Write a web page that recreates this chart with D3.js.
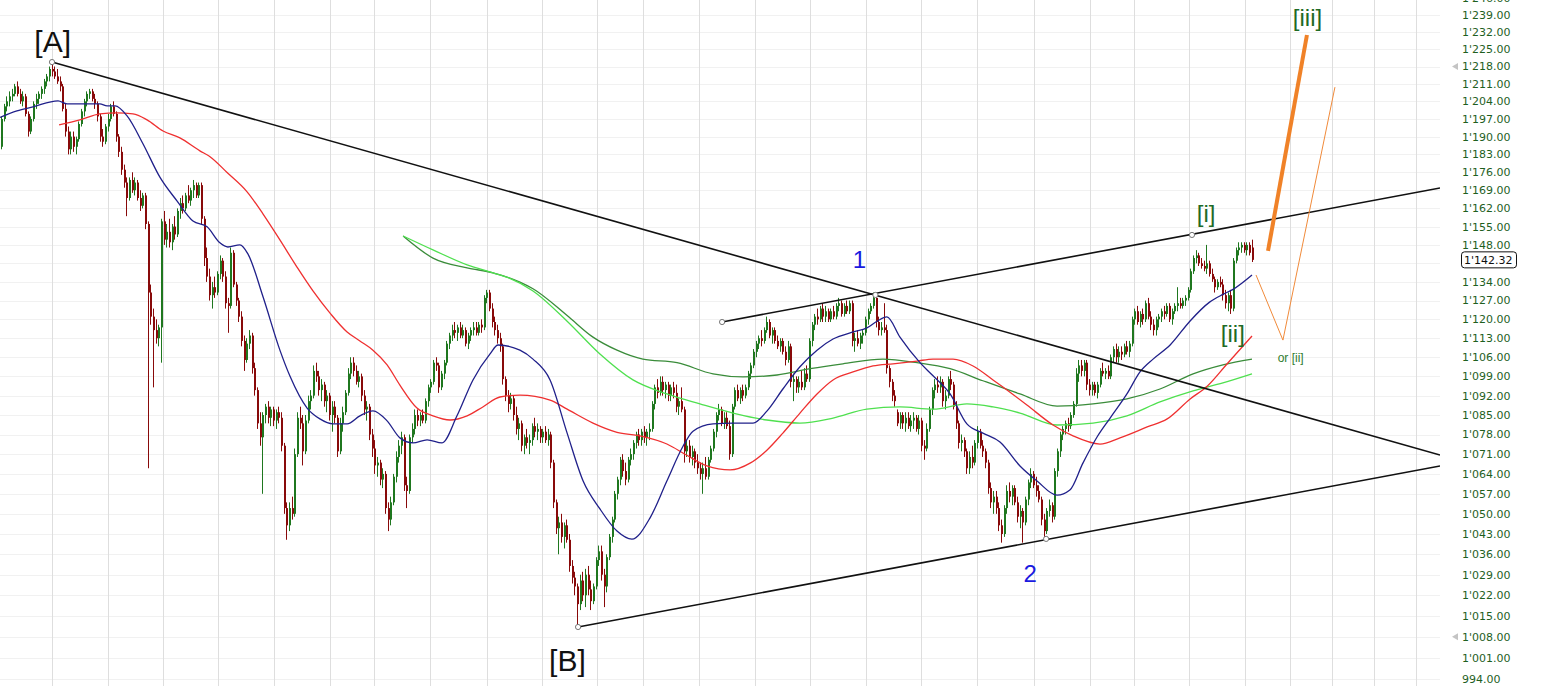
<!DOCTYPE html>
<html><head><meta charset="utf-8">
<script src="https://cdn.jsdelivr.net/npm/d3@7"></script>
<style>html,body{margin:0;padding:0;background:#fff;overflow:hidden}</style>
</head><body>
<svg id="chart" width="1543" height="686"></svg>
<script>
// ---- DATA ----
const opens = [
1186,1197,1202,1204,1206,1207,1210,1207,1204,1206,
1199,1192,1197,1203,1205,1207,1209,1212,1214,1217,
1216,1214,1212,1210,1201,1192,1185,1190,1186,1189,
1195,1200,1204,1207,1208,1205,1203,1198,1190,1188,
1194,1197,1202,1199,1190,1184,1177,1172,1166,1173,
1169,1172,1166,1163,1167,1156,1130,1121,1116,1113,
1117,1157,1150,1153,1149,1155,1152,1161,1164,1162,
1167,1165,1169,1171,1167,1171,1158,1143,1136,1129,
1132,1130,1137,1142,1136,1126,1125,1145,1133,1127,
1121,1112,1105,1111,1114,1102,1094,1082,1077,1085,
1088,1084,1087,1083,1086,1084,1074,1052,1046,1052,
1050,1071,1084,1082,1072,1083,1090,1092,1101,1099,
1094,1096,1090,1092,1085,1088,1084,1072,1082,1086,
1093,1100,1104,1101,1097,1099,1092,1087,1088,1078,
1073,1067,1068,1062,1064,1052,1048,1054,1063,1070,
1074,1077,1060,1058,1077,1080,1085,1083,1085,1083,
1090,1095,1097,1104,1103,1095,1100,1104,1111,1114,
1116,1115,1117,1114,1116,1111,1114,1116,1117,1115,
1118,1117,1128,1130,1124,1119,1116,1113,1110,1098,
1092,1089,1091,1085,1080,1082,1074,1077,1075,1076,
1081,1079,1080,1077,1079,1076,1078,1068,1054,1045,
1047,1042,1046,1041,1032,1028,1025,1019,1027,1022,
1029,1024,1020,1025,1034,1037,1029,1025,1035,1042,
1048,1057,1062,1069,1065,1062,1069,1071,1075,1078,
1076,1079,1077,1079,1080,1089,1095,1093,1097,1094,
1096,1092,1095,1093,1088,1090,1087,1072,1074,1070,
1072,1068,1066,1064,1066,1063,1069,1073,1079,1085,
1087,1082,1084,1081,1071,1088,1094,1091,1094,1092,
1095,1100,1103,1108,1111,1113,1112,1116,1119,1114,
1116,1112,1110,1112,1108,1105,1110,1097,1098,1095,
1097,1095,1100,1098,1112,1118,1121,1120,1124,1121,
1123,1120,1123,1121,1125,1126,1122,1125,1123,1126,
1112,1113,1111,1114,1115,1120,1123,1125,1128,1119,
1116,1117,1116,1102,1097,1092,1086,1082,1085,1082,
1084,1081,1083,1084,1080,1083,1074,1073,1080,1087,
1094,1096,1095,1097,1090,1092,1098,1096,1088,1082,
1075,1076,1072,1066,1070,1068,1075,1079,1074,1072,
1068,1059,1054,1056,1052,1046,1043,1052,1058,1056,
1059,1054,1049,1051,1047,1055,1061,1064,1060,1058,
1055,1048,1044,1051,1053,1049,1065,1072,1078,1080,
1082,1081,1085,1089,1100,1103,1101,1104,1096,1094,
1096,1093,1096,1101,1100,1101,1099,1106,1109,1106,
1108,1107,1110,1108,1111,1120,1123,1119,1122,1120,
1126,1121,1118,1116,1120,1121,1123,1122,1125,1120,
1123,1125,1126,1125,1127,1128,1131,1138,1143,1144,
1141,1140,1139,1141,1137,1135,1132,1134,1133,1129,
1126,1129,1124,1142,1146,1147,1148,1146,1148,1147];
const highs = [
1198,1203,1206,1208,1209,1211,1212,1209,1208,1207,
1200,1198,1204,1207,1208,1210,1213,1215,1218,1220,
1218,1217,1214,1211,1203,1194,1192,1192,1190,1196,
1201,1205,1208,1209,1209,1207,1204,1199,1193,1195,
1199,1203,1204,1200,1191,1186,1179,1174,1174,1176,
1174,1173,1169,1168,1168,1157,1133,1124,1120,1118,
1158,1161,1156,1158,1156,1159,1162,1166,1167,1168,
1171,1170,1173,1172,1172,1172,1159,1147,1139,1134,
1136,1138,1144,1143,1138,1128,1147,1146,1134,1128,
1123,1114,1113,1116,1115,1104,1095,1086,1086,1089,
1090,1088,1088,1087,1088,1086,1075,1054,1054,1056,
1073,1086,1088,1085,1085,1092,1094,1103,1104,1101,
1098,1097,1094,1093,1090,1090,1085,1084,1088,1094,
1102,1106,1106,1103,1101,1100,1094,1090,1089,1080,
1076,1070,1069,1066,1065,1054,1056,1064,1072,1076,
1079,1078,1063,1078,1082,1087,1087,1086,1087,1091,
1096,1098,1105,1106,1104,1101,1105,1112,1115,1118,
1119,1118,1119,1118,1117,1115,1117,1119,1119,1119,
1120,1129,1131,1131,1126,1121,1118,1115,1111,1099,
1094,1093,1092,1088,1084,1083,1078,1080,1078,1082,
1084,1082,1081,1080,1081,1080,1079,1069,1055,1049,
1050,1047,1048,1043,1034,1030,1026,1029,1030,1031,
1032,1027,1026,1035,1039,1039,1031,1036,1043,1049,
1058,1063,1070,1071,1068,1070,1073,1076,1079,1080,
1080,1081,1080,1082,1090,1096,1098,1099,1099,1097,
1097,1096,1097,1096,1091,1095,1088,1076,1076,1074,
1073,1071,1068,1068,1070,1070,1074,1080,1086,1089,
1088,1086,1086,1083,1089,1095,1096,1095,1096,1096,
1101,1104,1109,1112,1114,1116,1117,1121,1120,1117,
1117,1114,1113,1113,1110,1112,1111,1100,1099,1099,
1101,1102,1103,1113,1119,1122,1124,1125,1126,1125,
1124,1124,1125,1126,1128,1127,1126,1127,1127,1127,
1115,1116,1115,1116,1121,1124,1126,1130,1129,1121,
1119,1126,1118,1103,1098,1094,1087,1086,1086,1086,
1086,1085,1086,1085,1085,1084,1076,1082,1088,1095,
1098,1099,1099,1098,1094,1099,1101,1097,1090,1083,
1078,1077,1073,1072,1074,1076,1081,1080,1076,1073,
1069,1061,1058,1058,1054,1048,1053,1060,1061,1060,
1060,1056,1053,1052,1056,1062,1066,1065,1063,1060,
1056,1050,1052,1055,1054,1066,1073,1079,1081,1083,
1084,1086,1090,1102,1105,1105,1105,1105,1098,1097,
1097,1097,1102,1104,1102,1103,1107,1110,1111,1110,
1110,1111,1112,1112,1121,1124,1125,1123,1124,1127,
1128,1123,1120,1121,1122,1124,1125,1126,1126,1124,
1126,1132,1128,1128,1129,1132,1139,1144,1146,1145,
1143,1142,1148,1142,1139,1136,1135,1136,1135,1131,
1130,1131,1143,1147,1149,1149,1149,1149,1149,1150];
const lows = [
1185,1196,1200,1202,1204,1206,1206,1203,1202,1198,
1190,1191,1196,1201,1203,1205,1207,1210,1212,1214,
1213,1211,1208,1200,1190,1183,1183,1184,1183,1188,
1194,1198,1202,1205,1204,1201,1196,1188,1186,1187,
1192,1196,1198,1188,1182,1175,1170,1159,1165,1168,
1167,1165,1161,1162,1154,1066,1118,1095,1111,1110,
1104,1148,1147,1147,1146,1150,1151,1158,1160,1161,
1164,1163,1166,1166,1166,1156,1140,1134,1127,1124,
1128,1129,1135,1134,1124,1115,1124,1132,1125,1119,
1110,1101,1104,1109,1100,1092,1080,1074,1057,1082,
1082,1081,1081,1080,1082,1072,1050,1041,1044,1048,
1049,1070,1080,1067,1071,1082,1087,1091,1097,1092,
1090,1088,1086,1083,1079,1082,1070,1071,1079,1085,
1092,1098,1099,1096,1095,1090,1085,1083,1076,1070,
1064,1063,1060,1059,1050,1044,1046,1053,1061,1068,
1071,1058,1052,1057,1075,1078,1081,1081,1082,1082,
1088,1093,1096,1101,1093,1094,1098,1103,1109,1112,
1113,1112,1113,1113,1110,1109,1112,1114,1114,1114,
1115,1116,1126,1123,1117,1114,1111,1108,1096,1090,
1086,1087,1083,1078,1076,1072,1071,1073,1071,1074,
1077,1076,1075,1075,1075,1074,1066,1052,1043,1036,
1040,1038,1040,1030,1026,1022,1011.3,1017,1020,1018,
1022,1017,1019,1024,1032,1027,1018,1023,1034,1040,
1047,1055,1060,1063,1060,1061,1067,1069,1073,1074,
1074,1075,1074,1076,1079,1087,1091,1092,1092,1091,
1090,1090,1091,1086,1085,1086,1068,1070,1068,1067,
1066,1064,1062,1057,1062,1062,1068,1072,1077,1083,
1081,1080,1080,1069,1070,1087,1090,1089,1090,1091,
1094,1098,1102,1106,1109,1110,1111,1115,1113,1111,
1111,1109,1108,1107,1103,1104,1095,1090,1093,1093,
1094,1094,1097,1097,1110,1116,1118,1119,1119,1119,
1119,1119,1120,1120,1123,1121,1121,1122,1122,1110,
1108,1110,1109,1111,1114,1118,1122,1124,1117,1114,
1114,1115,1100,1095,1090,1088,1081,1080,1080,1079,
1080,1079,1080,1079,1078,1072,1069,1072,1079,1085,
1091,1093,1093,1088,1087,1091,1094,1087,1080,1073,
1072,1070,1064,1064,1066,1067,1073,1073,1070,1066,
1057,1052,1050,1050,1044,1040,1042,1050,1054,1053,
1053,1047,1045,1040,1046,1053,1059,1059,1056,1054,
1046,1041,1043,1049,1047,1048,1063,1070,1076,1078,
1079,1080,1084,1088,1097,1099,1099,1094,1092,1092,
1092,1091,1095,1099,1098,1098,1098,1104,1104,1104,
1105,1106,1107,1106,1110,1118,1118,1117,1118,1119,
1120,1116,1114,1114,1117,1119,1120,1121,1119,1118,
1122,1123,1124,1124,1125,1127,1130,1137,1141,1140,
1139,1138,1137,1136,1134,1130,1131,1132,1127,1124,
1123,1122,1123,1141,1144,1145,1145,1144,1144,1141.5];
const closes = [
1197,1202,1204,1206,1207,1210,1207,1204,1206,1199,
1192,1197,1203,1205,1207,1209,1212,1214,1217,1216,
1214,1212,1210,1201,1192,1185,1190,1186,1189,1195,
1200,1204,1207,1208,1205,1203,1198,1190,1188,1194,
1197,1202,1199,1190,1184,1177,1172,1166,1173,1169,
1172,1166,1163,1167,1156,1130,1121,1116,1113,1117,
1157,1150,1153,1149,1155,1152,1161,1164,1162,1167,
1165,1169,1171,1167,1171,1158,1143,1136,1129,1132,
1130,1137,1142,1136,1126,1125,1145,1133,1127,1121,
1112,1105,1111,1114,1102,1094,1082,1077,1085,1088,
1084,1087,1083,1086,1084,1074,1052,1046,1052,1050,
1071,1084,1082,1072,1083,1090,1092,1101,1099,1094,
1096,1090,1092,1085,1088,1084,1072,1082,1086,1093,
1100,1104,1101,1097,1099,1092,1087,1088,1078,1073,
1067,1068,1062,1064,1052,1048,1054,1063,1070,1074,
1077,1060,1058,1077,1080,1085,1083,1085,1083,1090,
1095,1097,1104,1103,1095,1100,1104,1111,1114,1116,
1115,1117,1114,1116,1111,1114,1116,1117,1115,1118,
1117,1128,1130,1124,1119,1116,1113,1110,1098,1092,
1089,1091,1085,1080,1082,1074,1077,1075,1076,1081,
1079,1080,1077,1079,1076,1078,1068,1054,1045,1047,
1042,1046,1041,1032,1028,1025,1019,1027,1022,1029,
1024,1020,1025,1034,1037,1029,1025,1035,1042,1048,
1057,1062,1069,1065,1062,1069,1071,1075,1078,1076,
1079,1077,1079,1080,1089,1095,1093,1097,1094,1096,
1092,1095,1093,1088,1090,1087,1072,1074,1070,1072,
1068,1066,1064,1066,1063,1069,1073,1079,1085,1087,
1082,1084,1081,1071,1088,1094,1091,1094,1092,1095,
1100,1103,1108,1111,1113,1112,1116,1119,1114,1116,
1112,1110,1112,1108,1105,1110,1097,1098,1095,1097,
1095,1100,1098,1112,1118,1121,1120,1124,1121,1123,
1120,1123,1121,1125,1126,1122,1125,1123,1126,1112,
1113,1111,1114,1115,1120,1123,1125,1128,1119,1116,
1117,1116,1102,1097,1092,1090,1082,1085,1082,1084,
1081,1083,1084,1080,1083,1074,1073,1080,1087,1094,
1096,1095,1097,1090,1092,1098,1096,1088,1082,1075,
1076,1072,1066,1070,1068,1075,1079,1074,1072,1068,
1059,1054,1056,1052,1046,1043,1052,1058,1056,1059,
1054,1049,1051,1047,1055,1061,1064,1060,1058,1055,
1048,1044,1051,1053,1049,1065,1072,1078,1080,1082,
1081,1085,1089,1100,1103,1101,1104,1096,1094,1096,
1093,1096,1101,1100,1101,1099,1106,1109,1106,1108,
1107,1110,1108,1111,1120,1123,1119,1122,1120,1126,
1121,1118,1116,1120,1121,1123,1122,1125,1120,1123,
1125,1126,1125,1127,1128,1131,1138,1143,1144,1141,
1140,1139,1141,1137,1135,1132,1134,1133,1129,1126,
1129,1124,1142,1146,1147,1148,1146,1148,1145,1142.32];

// moving averages, read as [bar index, price]
const maBlue = [[-1,1197.5],[5.6,1200.2],[11.6,1201.8],[21,1204.2],[24.4,1203],[30.4,1203],[36.7,1203],[39.4,1202.2],[42.4,1202.2],[46.9,1198.2],[52.9,1187.1],[59.2,1174.1],[65.6,1164.9],[71.6,1157.1],[76.9,1154.9],[81.7,1148.8],[84.7,1147.2],[89.2,1148],[92.2,1144.6],[97.9,1128.3],[104.2,1108.6],[108,1099],[114.4,1087.5],[119.2,1083.6],[124.1,1081.8],[129.4,1081.8],[134.2,1084.7],[139.1,1086.5],[144.4,1082.9],[149.2,1076.8],[154.1,1075],[159.4,1076.1],[165,1075],[170.6,1084.7],[176.6,1097.7],[183,1107.2],[186,1110.5],[194.2,1108.6],[199.1,1105.3],[205.5,1097.7],[211.9,1078.5],[217.9,1061.5],[224.2,1051.7],[230.6,1044],[236.2,1041.2],[243,1048.6],[249.3,1061.5],[255.3,1073.7],[259.1,1079.2],[266.6,1081.8],[274.1,1082.1],[281.6,1082.1],[286.8,1086.4],[292.8,1094.4],[299.2,1102.5],[305.6,1108.6],[311.6,1112.7],[319.1,1115.3],[324.3,1116.8],[328.1,1119.3],[331.8,1120.9],[336.7,1113.4],[344.2,1104],[349.1,1099.2],[355.5,1092.6],[361.8,1081.8],[367.8,1078.5],[374.2,1075.3],[381.7,1066.8],[388.1,1061.5],[395.6,1056.5],[400.4,1058.3],[405.3,1067.8],[410.6,1077.1],[415.5,1083.9],[421.8,1092.6],[426.7,1100.6],[431.6,1105.3],[438,1110.5],[445.4,1119.3],[452.8,1126.4],[457.8,1129.3],[461.6,1131.2],[468.7,1136.6]];
const maRed = [[21.4,1194.6],[29.2,1196.6],[36.7,1199],[43.1,1199.4],[49.1,1199],[54.4,1196.6],[60.4,1192.2],[66.7,1189.5],[74.2,1184.4],[78,1182.1],[84.4,1175.9],[91.9,1168.4],[97.9,1159.8],[104.2,1149.9],[110.6,1139.6],[116.6,1130.6],[123,1122.3],[129.4,1115.3],[134.2,1112],[139.1,1108.6],[144.4,1103.2],[149.2,1095.8],[155.6,1087.5],[161.6,1084.7],[168,1083.2],[174.4,1084.7],[180.3,1087.9],[186.7,1091.5],[194.2,1092.2],[205.5,1090.4],[211.9,1087.1],[221.6,1082.1],[230.6,1078.8],[239.2,1077.5],[249.3,1074.6],[256.8,1070.6],[264.3,1066.8],[273,1065.4],[280.5,1067.8],[286.8,1072.4],[292.8,1078.5],[299.2,1085.7],[305.6,1092.6],[311.6,1097.7],[319.1,1100.6],[326.6,1102.8],[334.1,1103.6],[343.1,1104.6],[349.1,1105.3],[356.6,1105.3],[364.1,1102.8],[371.6,1097.7],[375.3,1095.1],[384.3,1088.6],[394.1,1081.4],[401.6,1077.5],[411.7,1074.6],[419.2,1076.8],[429.4,1080.7],[436.9,1083.6],[445.5,1090.8],[451.9,1095.4],[459.4,1103.6],[468.7,1113.8]];
const maDarkGreen = [[150.4,1151.4],[161.6,1143],[174.4,1139.3],[184.1,1137.4],[194.2,1133.9],[199.1,1131.4],[211.9,1121.4],[221.6,1113.4],[230.6,1108.6],[240.3,1105.3],[253.1,1104],[266.6,1099.9],[277.8,1098.8],[290.6,1099.5],[303,1101.8],[315.3,1103.6],[330.3,1105.3],[343.1,1104],[355.5,1101.8],[367.8,1097.4],[381.7,1092.6],[395.6,1088.2],[409.1,1089],[421.8,1090.8],[434.2,1094.4],[446.6,1099.9],[457.8,1103.2],[468.7,1105.3]];
const maLightGreen = [[150.4,1151.4],[161.6,1146.1],[174.4,1140.4],[184.1,1137.4],[190,1135.5],[199.1,1130.6],[211.9,1119.3],[224.2,1107.2],[236.6,1097.7],[249.3,1092.6],[261.7,1089],[274.1,1085.7],[286.8,1083.2],[299.2,1082.1],[311.6,1083.9],[324.3,1087.1],[336.7,1087.9],[349.1,1087.1],[361.8,1089],[371.6,1087.9],[381.7,1085.7],[395.6,1081.4],[409.1,1082.1],[421.8,1084.7],[434.2,1089.7],[446.6,1093.7],[457.8,1096.6],[468.7,1099.9]];

// trend lines [[idx,price],[idx,price]]
const trendLines = [
  [[18.75,1219.8],[539.2,1070.7]],
  [[216,1011.3],[539.2,1066.8]],
  [[270,1119.0],[539.2,1169.9]]
];
const anchorPoints = [[18.75,1219.8],[216,1011.3],[270,1119.0],[327.5,1129.1],[391.5,1041.3],[446.2,1151.8]];
const projThick = [[474.7,1145.7],[489.3,1230.8]];
const projThin = [[470.2,1136.6],[480.3,1112.3],[499.8,1209.7]];

// gridline positions (bar index of period starts)
const gridIdx = [18.7,39.7,60.4,81,102,123,139.5,160.5,181.9,202.5,223.1,240.3,261.3,282.3,303,324,344.6,365.6,386.9,408,424.4,445,466,483,498.7,514.4,530.2];
const tickValues = d3.range(994, 1247, 7);
const lastPrice = 1142.32;
const markerLevels = [1218, 1008];

// wave labels
const waveLabels = [
  {t:"[A]", i:19, p:1224, c:"#111", s:30},
  {t:"[B]", i:212, p:996.5, c:"#111", s:30},
  {t:"1", i:321.5, p:1139.2, c:"#1a1ae0", s:24},
  {t:"2", i:385.5, p:1026.5, c:"#1a1ae0", s:24},
  {t:"[i]", i:451.5, p:1156.6, c:"#1f6a26", s:24},
  {t:"[ii]", i:461.5, p:1111.6, c:"#1f6a26", s:24},
  {t:"[iii]", i:489.5, p:1234.3, c:"#1f6a26", s:24},
  {t:"or [ii]", i:483.2, p:1104.2, c:"#2f7d2f", s:12}
];

// ---- DRAW ----
const svg = d3.select("#chart");
const x = d3.scaleLinear().domain([0, 469]).range([2, 1252.8]);
const y = d3.scaleLog().domain([994, 1239]).range([679, 15]);
const plotRight = 1440;

svg.append("defs").append("clipPath").attr("id","plot")
  .append("rect").attr("x",0).attr("y",0).attr("width",plotRight).attr("height",686);

// horizontal gridlines
svg.append("g").selectAll("line").data(tickValues).join("line")
  .attr("x1",0).attr("x2",plotRight)
  .attr("y1",d=>Math.round(y(d))+0.5).attr("y2",d=>Math.round(y(d))+0.5)
  .attr("stroke","#f1f1f1").attr("stroke-width",1);
// vertical gridlines
svg.append("g").selectAll("line").data(gridIdx).join("line")
  .attr("x1",d=>Math.round(x(d))+0.5).attr("x2",d=>Math.round(x(d))+0.5)
  .attr("y1",0).attr("y2",686)
  .attr("stroke","#dedede").attr("stroke-width",1);

const plot = svg.append("g").attr("clip-path","url(#plot)");

// candles
const bars = d3.range(closes.length).map(i=>({i,o:opens[i],h:highs[i],l:lows[i],c:closes[i]}));
const GREEN="#1f771f", RED="#880a0a";
const cg = plot.append("g");
cg.selectAll("rect.w").data(bars).join("rect").attr("class","w")
  .attr("x",d=>Math.round(x(d.i))-1).attr("width",1)
  .attr("y",d=>y(d.h)).attr("height",d=>Math.max(1,y(d.l)-y(d.h)))
  .attr("fill",d=>d.c>=d.o?GREEN:RED);
cg.selectAll("rect.b").data(bars).join("rect").attr("class","b")
  .attr("x",d=>Math.round(x(d.i))-1).attr("width",2)
  .attr("y",d=>y(Math.max(d.o,d.c))).attr("height",d=>Math.max(2,Math.abs(y(d.o)-y(d.c))))
  .attr("fill",d=>d.c>=d.o?GREEN:RED);

// moving averages
const line = d3.line().x(d=>x(d[0])).y(d=>y(d[1])).curve(d3.curveMonotoneX);
[[maDarkGreen,"#3a8c3a"],[maLightGreen,"#4fe04f"],[maRed,"#ef3030"],[maBlue,"#20208a"]].forEach(([data,col])=>{
  plot.append("path").datum(data).attr("d",line).attr("fill","none")
    .attr("stroke",col).attr("stroke-width",1.3);
});

// trend lines
const straight = d3.line().x(d=>x(d[0])).y(d=>y(d[1]));
trendLines.forEach(tl=>{
  plot.append("path").datum(tl).attr("d",straight).attr("fill","none")
    .attr("stroke","#111").attr("stroke-width",1.6);
});
plot.selectAll("circle.a").data(anchorPoints).join("circle").attr("class","a")
  .attr("cx",d=>x(d[0])).attr("cy",d=>y(d[1])).attr("r",2.6)
  .attr("fill","#fff").attr("stroke","#777").attr("stroke-width",1);

// projections
plot.append("path").datum(projThick).attr("d",straight).attr("fill","none")
  .attr("stroke","#f08228").attr("stroke-width",4);
plot.append("path").datum(projThin).attr("d",straight).attr("fill","none")
  .attr("stroke","#f08a3a").attr("stroke-width",1);

// wave labels
svg.append("g").selectAll("text").data(waveLabels).join("text")
  .attr("x",d=>x(d.i)).attr("y",d=>y(d.p))
  .attr("text-anchor","middle")
  .attr("font-family","Liberation Sans, Arial, sans-serif")
  .attr("font-size",d=>d.s).attr("fill",d=>d.c)
  .text(d=>d.t);

// price axis labels (the one hidden behind the last-price box is skipped)
const fmt = v => d3.format(",.2f")(v).replace(/,/g,"'");
const ly = y(lastPrice);
svg.append("g").selectAll("text").data(tickValues.filter(v=>Math.abs(y(v)-ly)>9)).join("text")
  .attr("x",1462).attr("y",d=>y(d)).attr("dy","0.36em")
  .attr("font-family","DejaVu Sans, Verdana, sans-serif").attr("font-size",11)
  .attr("fill","#1f5f1f").text(fmt);

// marker triangles
svg.append("g").selectAll("path").data(markerLevels).join("path")
  .attr("d",d=>{const yy=y(d);return `M1452,${yy} L1458,${yy-3.5} L1458,${yy+3.5} Z`;})
  .attr("fill","#c4c4c4");

// last price box
svg.append("rect").attr("x",1461.5).attr("y",ly-8).attr("width",55).attr("height",16)
  .attr("rx",3).attr("fill","#fff").attr("stroke","#111").attr("stroke-width",1);
svg.append("text").attr("x",1464).attr("y",ly).attr("dy","0.36em")
  .attr("font-family","DejaVu Sans, Verdana, sans-serif").attr("font-size",11)
  .attr("fill","#111").text(fmt(lastPrice));
</script>
</body></html>
